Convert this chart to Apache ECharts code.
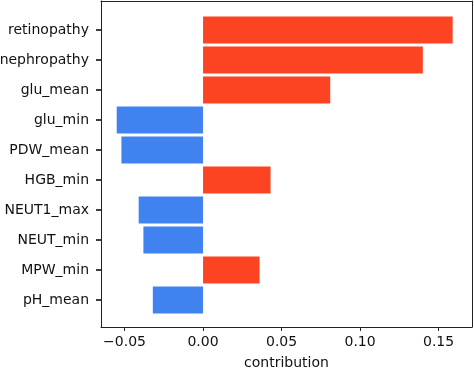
<!DOCTYPE html>
<html>
<head>
<meta charset="utf-8">
<script src="https://cdn.jsdelivr.net/npm/echarts@6/dist/echarts.min.js"></script>
<style>html,body{margin:0;padding:0;background:#fff;}#c{width:474px;height:370px;}</style>
</head>
<body>
<div id="c"></div>
<script>
const categories = ['retinopathy','nephropathy','glu_mean','glu_min','PDW_mean','HGB_min','NEUT1_max','NEUT_min','MPW_min','pH_mean'];
const contributions = [0.159, 0.140, 0.081, -0.055, -0.052, 0.043, -0.041, -0.038, 0.036, -0.032];
const xTicks = [-0.05, 0.00, 0.05, 0.10, 0.15];
const yTickIdx = [0, 1, 2, 3, 4, 5, 6, 7, 8, 9];
const xMin = -0.065, xMax = 0.1713;
const yMin = -0.967, yMax = 9.9;
const RED = '#FC4322', BLUE = '#4083F0';
const FONT = 'DejaVu Sans';
const LINE = '#222';

const chart = echarts.init(document.getElementById('c'), null, {renderer: 'canvas'});
chart.setOption({
  animation: false,
  backgroundColor: '#fff',
  grid: [
    {left: 101, right: 2, top: 1, bottom: 43, outerBoundsMode: 'none', containLabel: false},
    {left: 101, right: 2, top: 15, bottom: 55, outerBoundsMode: 'none', containLabel: false}
  ],
  xAxis: [
    {
      gridIndex: 0, type: 'value', min: xMin, max: xMax, position: 'bottom',
      axisLine: {show: true, onZero: false, lineStyle: {color: LINE}},
      axisTick: {show: true, length: 4, lineStyle: {color: LINE}, customValues: xTicks},
      splitLine: {show: false},
      axisLabel: {customValues: xTicks, margin: 8, color: '#111', fontFamily: FONT, fontSize: 14,
        formatter: v => v.toFixed(2).replace('-', '\u2212')},
      name: 'contribution', nameLocation: 'middle', nameGap: 29,
      nameTextStyle: {color: '#111', fontFamily: FONT, fontSize: 14}
    },
    {
      gridIndex: 0, type: 'value', min: xMin, max: xMax, position: 'top',
      axisLine: {show: true, onZero: false, lineStyle: {color: LINE}},
      axisTick: {show: false}, axisLabel: {show: false}, splitLine: {show: false}
    },
    {gridIndex: 1, type: 'value', min: xMin, max: xMax, show: false, splitLine: {show: false}}
  ],
  yAxis: [
    {
      gridIndex: 0, type: 'value', min: yMin, max: yMax, inverse: true, position: 'left',
      axisLine: {show: true, onZero: false, lineStyle: {color: LINE}},
      axisTick: {show: true, inside: false, length: 5, lineStyle: {color: '#000', width: 1.5}, customValues: yTickIdx},
      axisLabel: {customValues: yTickIdx, margin: 12, color: '#111', fontFamily: FONT, fontSize: 14,
        formatter: v => categories[Math.round(v)]},
      splitLine: {show: false}
    },
    {
      gridIndex: 0, type: 'value', min: yMin, max: yMax, inverse: true, position: 'right',
      axisLine: {show: true, onZero: false, lineStyle: {color: LINE}},
      axisTick: {show: false}, axisLabel: {show: false}, splitLine: {show: false}
    },
    {
      gridIndex: 1, type: 'category', data: categories, inverse: true, show: false
    }
  ],
  series: [{
    type: 'bar', xAxisIndex: 2, yAxisIndex: 2, barWidth: 27,
    data: contributions.map(v => ({value: v, itemStyle: {color: v >= 0 ? RED : BLUE}}))
  }]
});
</script>
</body>
</html>
